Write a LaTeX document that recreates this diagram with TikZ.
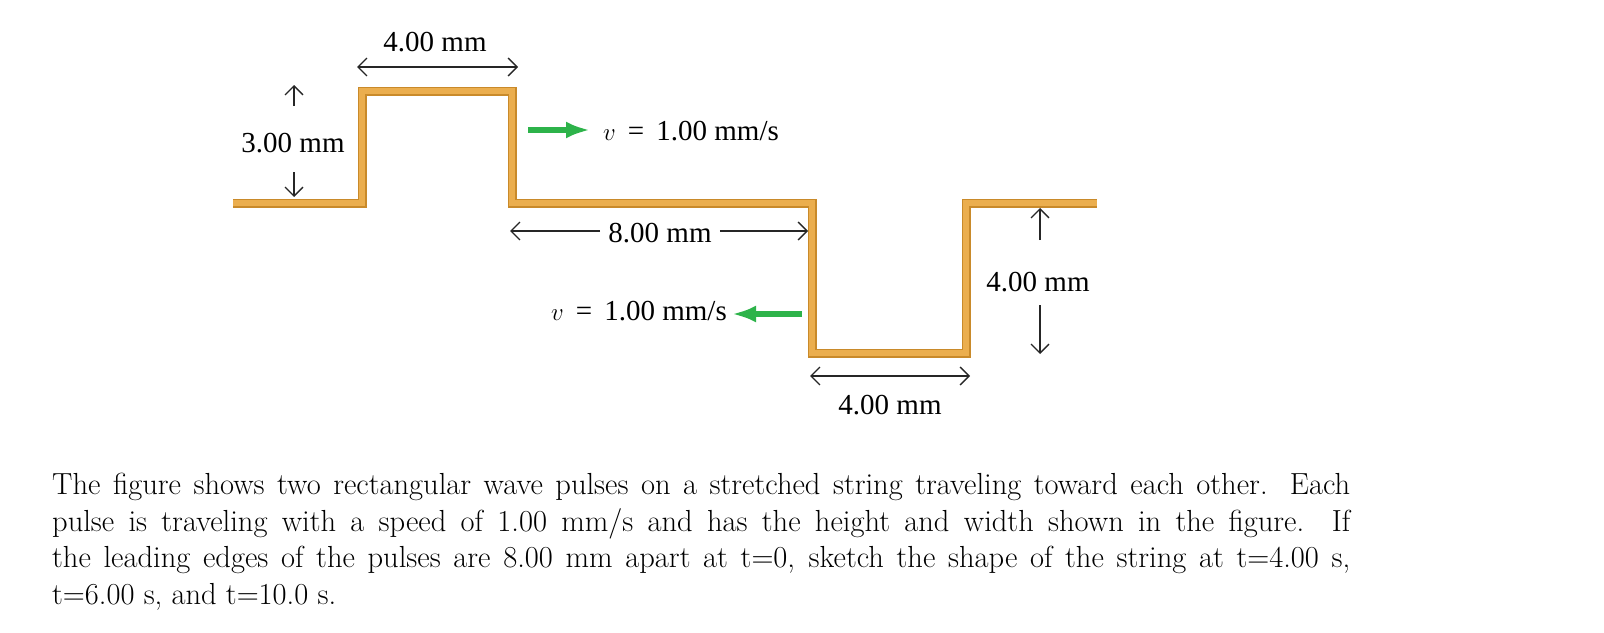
\documentclass[tikz,border=0pt]{standalone}
\usepackage{fontspec}
\newfontfamily\tms{Liberation Serif}
\usetikzlibrary{arrows.meta}
\definecolor{strfill}{HTML}{EBAE4E}
\definecolor{strline}{HTML}{C98A2A}
\definecolor{grn}{HTML}{2DB34A}
\begin{document}
\begin{tikzpicture}[x=1pt,y=-1pt,
  dim/.style={{Straight Barb[length=9pt,width=18pt]}-{Straight Barb[length=9pt,width=18pt]},line width=1.3pt,black!85},
  dimone/.style={-{Straight Barb[length=9pt,width=18pt]},line width=1.3pt,black!85},
  lab/.style={font=\tms\fontsize{29}{32}\selectfont,inner sep=3pt},
  garrow/.style={-{Latex[length=24pt,width=17pt]},line width=6pt,grn}]
\useasboundingbox (0,0) rectangle (1604,632);
\path (233,203) coordinate (s0) (362,203) coordinate (s1) (362,91) coordinate (s2)
  (512,91) coordinate (s3) (512,203) coordinate (s4) (812,203) coordinate (s5)
  (812,353) coordinate (s6) (966,353) coordinate (s7) (966,203) coordinate (s8)
  (1097,203) coordinate (s9);
\draw[line width=9pt,strline] (s0)--(s1)--(s2)--(s3)--(s4)--(s5)--(s6)--(s7)--(s8)--(s9);
\draw[line width=6.5pt,strfill] (s0)--(s1)--(s2)--(s3)--(s4)--(s5)--(s6)--(s7)--(s8)--(s9);
\node[lab] (t1) at (435,42) {4.00 mm};
\coordinate (a1) at (357,67); \coordinate (a2) at (518,67);
\draw[dim] (a1)--(a2);
\node[lab] (t2) at (293,143) {3.00 mm};
\coordinate (b1) at (294,106); \coordinate (b2) at (294,85);
\coordinate (b3) at (294,172); \coordinate (b4) at (294,197);
\draw[dimone] (b1)--(b2); \draw[dimone] (b3)--(b4);
\node[lab,inner xsep=8pt] (t3) at (660,233) {8.00 mm};
\coordinate (c1) at (510,231); \coordinate (c2) at (808,231);
\draw[dimone] (t3.west|-c1)--(c1); \draw[dimone] (t3.east|-c2)--(c2);
\node[lab] (t4) at (1038,282) {4.00 mm};
\coordinate (d1) at (1040,240); \coordinate (d2) at (1040,208);
\coordinate (d3) at (1040,305); \coordinate (d4) at (1040,354);
\draw[dimone] (d1)--(d2); \draw[dimone] (d3)--(d4);
\node[lab] (t5) at (890,405) {4.00 mm};
\coordinate (e1) at (810,376); \coordinate (e2) at (970,376);
\draw[dim] (e1)--(e2);
\coordinate (g1) at (528,130); \coordinate (g2) at (590,130);
\draw[garrow] (g1)--(g2);
\node[lab,anchor=west] (v1) at (600,131) {$v$ \,=\, 1.00 mm/s};
\coordinate (h1) at (802,314); \coordinate (h2) at (732,314);
\draw[garrow] (h1)--(h2);
\node[lab,anchor=east] (v2) at (730,311) {$v$ \,=\, 1.00 mm/s};
\node[anchor=north west,text width=1298pt,align=justify,inner sep=0pt,
  font=\fontsize{30.5}{36.5}\selectfont] (para) at (52,473)
{The figure shows two rectangular wave pulses on a stretched string traveling toward each other. Each\linebreak pulse is traveling with a speed of 1.00 mm/s and has the height and width shown in the figure. If\linebreak the leading edges of the pulses are 8.00 mm apart at t=0, sketch the shape of the string at t=4.00 s,\linebreak t=6.00 s, and t=10.0 s.};
\end{tikzpicture}
\end{document}
